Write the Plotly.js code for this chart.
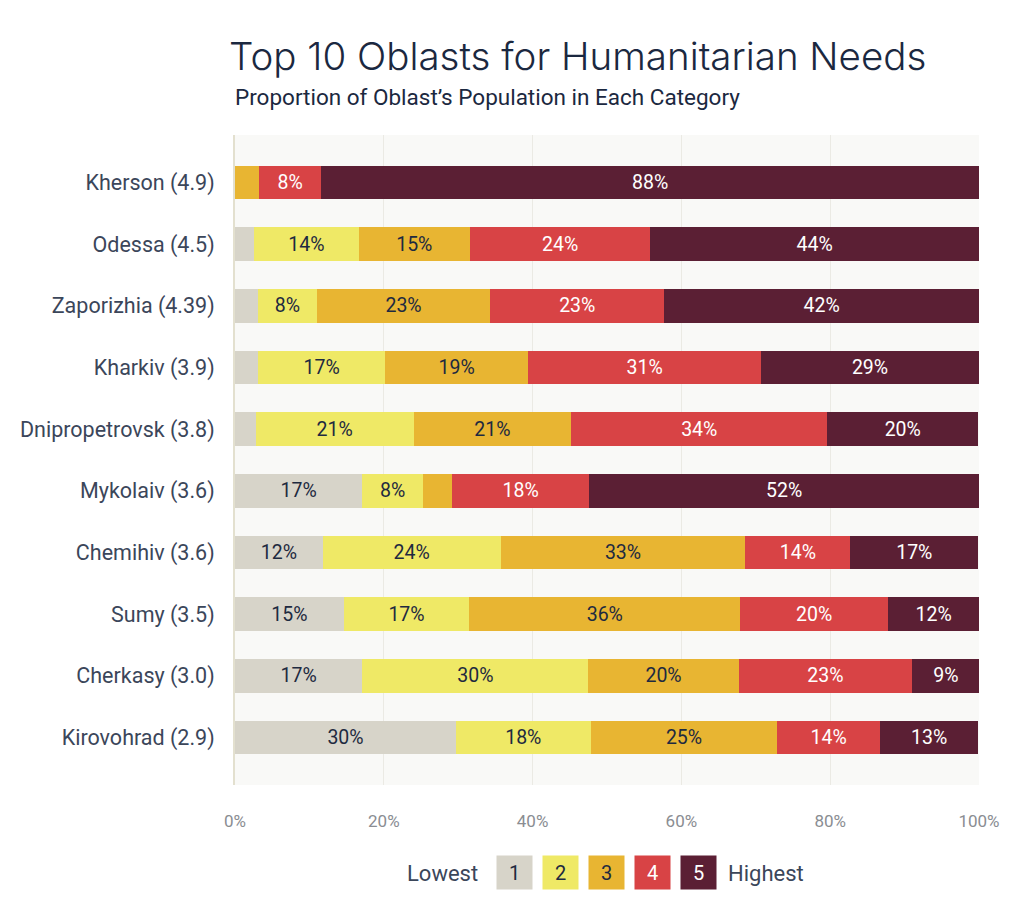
<!DOCTYPE html>
<html>
<head>
<meta charset="utf-8">
<script src="https://cdn.plot.ly/plotly-3.0.1.min.js"></script>
<style>html,body{margin:0;padding:0;background:#fff;}#chart{width:1024px;height:920px;}</style>
</head>
<body>
<div id="chart"></div>
<script>
var oblasts = ["Kherson (4.9)","Odessa (4.5)","Zaporizhia (4.39)","Kharkiv (3.9)","Dnipropetrovsk (3.8)","Mykolaiv (3.6)","Chemihiv (3.6)","Sumy (3.5)","Cherkasy (3.0)","Kirovohrad (2.9)"];
var level1 = [0, 2.6, 3.1, 3.1, 2.8, 17.1, 11.8, 14.6, 17.1, 29.7];
var level2 = [0, 14.0, 7.9, 17.1, 21.2, 8.2, 23.9, 16.9, 30.4, 18.1];
var level3 = [3.2, 15.0, 23.3, 19.2, 21.2, 3.9, 32.9, 36.4, 20.2, 25.1];
var level4 = [8.4, 24.2, 23.4, 31.3, 34.4, 18.4, 14.1, 19.9, 23.3, 13.8];
var level5 = [88.4, 44.2, 42.3, 29.3, 20.3, 52.4, 17.2, 12.2, 9.1, 13.2];
var levelNames = ["1","2","3","4","5"];
var colors = ["#d7d4c9","#efe966","#e8b532","#d84345","#5b1f34"];
var textColors = ["#1e2a40","#1e2a40","#1e2a40","#ffffff","#ffffff"];
var series = [level1, level2, level3, level4, level5];

var FONT = "Roboto, 'Open Sans', sans-serif";
var traces = series.map(function(vals, i){
  return {
    type: "bar",
    orientation: "h",
    y: oblasts,
    x: vals,
    name: levelNames[i],
    marker: {color: colors[i], line: {width: 0}},
    text: vals.map(function(v){ return v >= 5 ? Math.round(v) + "%" : ""; }),
    textposition: "inside",
    insidetextanchor: "middle",
    textangle: 0,
    textfont: {family: FONT, size: 19.5, color: textColors[i]},
    constraintext: "none",
    hoverinfo: "x+y+name",
    showlegend: false
  };
});

var plotL = 235, plotW = 744, plotT = 135, plotH = 650;
function px2x(p){ return (p - plotL) / plotW; }
function py2y(p){ return 1 - (p - plotT) / plotH; }

var annotations = [
  {text: "Top 10 Oblasts for Humanitarian Needs", xref: "paper", yref: "paper", x: px2x(227), y: py2y(56), xanchor: "left", yanchor: "middle", showarrow: false, font: {family: "Inter, Roboto, sans-serif", size: 38.5, color: "#1b2840", weight: 300}},
  {text: "Proportion of Oblast’s Population in Each Category", xref: "paper", yref: "paper", x: px2x(233), y: py2y(97), xanchor: "left", yanchor: "middle", showarrow: false, font: {family: FONT, size: 22.5, color: "#1b2840"}}
];
// legend built from colors
var boxLeft = [497, 543, 589, 635, 681];
annotations.push({text: "Lowest", xref: "paper", yref: "paper", x: px2x(480), y: py2y(873), xanchor: "right", yanchor: "middle", showarrow: false, font: {family: FONT, size: 22, color: "#3b465a"}});
annotations.push({text: "Highest", xref: "paper", yref: "paper", x: px2x(726), y: py2y(873), xanchor: "left", yanchor: "middle", showarrow: false, font: {family: FONT, size: 22, color: "#3b465a"}});
levelNames.forEach(function(n, i){
  annotations.push({text: n, xref: "paper", yref: "paper", x: px2x(boxLeft[i] + 17.5), y: py2y(872.5), xanchor: "center", yanchor: "middle", showarrow: false, width: 31, height: 29, bgcolor: colors[i], borderpad: 2, font: {family: FONT, size: 20, color: textColors[i]}});
});

var layout = {
  width: 1024, height: 920,
  margin: {l: 235, r: 45, t: 135, b: 135},
  paper_bgcolor: "#ffffff",
  plot_bgcolor: "#f9f9f7",
  barmode: "stack",
  bargap: 0.45,
  showlegend: false,
  xaxis: {
    range: [0, 100],
    tickvals: [0, 20, 40, 60, 80, 100],
    ticktext: ["0%","20%","40%","60%","80%","100%"],
    ticks: "outside", ticklen: 21, tickcolor: "rgba(0,0,0,0)",
    showgrid: true, gridcolor: "#ebeae4", gridwidth: 1,
    zeroline: false, showline: false,
    tickfont: {family: FONT, size: 17, color: "#8a8d92"},
    fixedrange: true
  },
  yaxis: {
    type: "category",
    categoryorder: "array", categoryarray: oblasts,
    range: [9.77, -0.77],
    ticks: "outside", ticklen: 14, tickcolor: "rgba(0,0,0,0)",
    showgrid: false, zeroline: false,
    showline: true, linecolor: "#e3e0cf", linewidth: 2,
    tickfont: {family: FONT, size: 21.5, color: "#3b465a"},
    fixedrange: true
  },
  annotations: annotations,
  font: {family: FONT}
};

Plotly.newPlot("chart", traces, layout, {displayModeBar: false, staticPlot: true});
</script>
</body>
</html>
